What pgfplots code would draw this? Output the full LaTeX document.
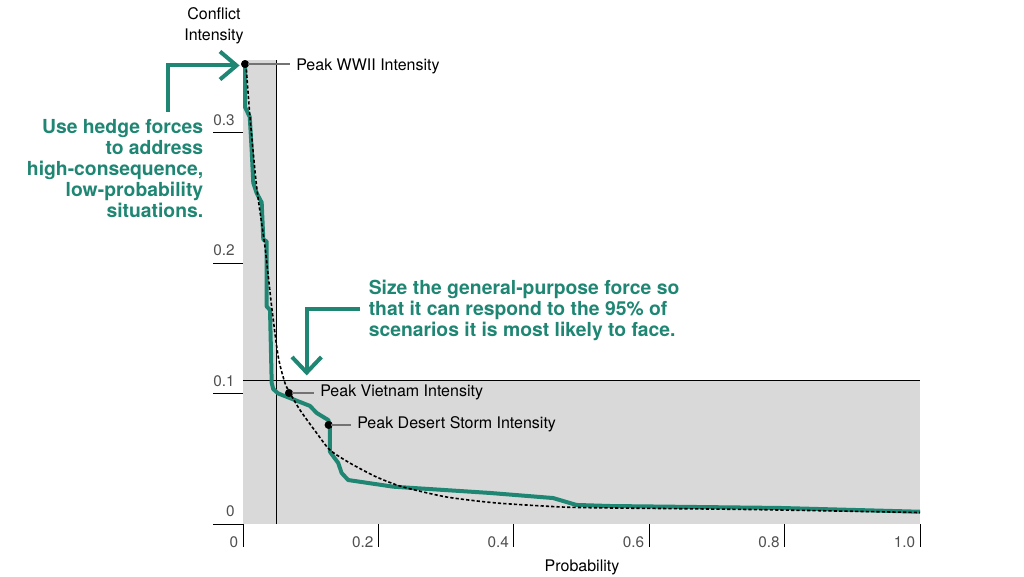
\documentclass[border=0pt]{standalone}
\usepackage{pgfplots}
\pgfplotsset{compat=1.18}
\usepackage{fontspec}
\setmainfont{TeX Gyre Heros}
\definecolor{tealg}{RGB}{31,134,115}
\definecolor{bgray}{RGB}{217,217,217}
\definecolor{tickgray}{RGB}{80,80,80}
\begin{document}
\begin{tikzpicture}
\path[use as bounding box] (0,0) rectangle (768pt,432pt);
\begin{axis}[
  at={(182.25pt,39pt)}, anchor=south west, scale only axis,
  width=507.75pt, height=348pt,
  xmin=0, xmax=1, ymin=0, ymax=0.3556,
  clip=false,
  axis x line*=bottom, axis y line*=left,
  axis line style={draw=none},
  tick align=outside,
  major tick length=22.5pt,
  xtick={0,0.2,0.4,0.6,0.8,1.0},
  xticklabels={0,0.2,0.4,0.6,0.8,1.0},
  ytick={0,0.1,0.2,0.3},
  yticklabels={0,0.1,0.2,0.3},
  xtick style={/pgfplots/major tick length=17pt, black, line width=0.75pt},
  ytick style={black, line width=0.75pt},
  xticklabel style={anchor=north east, inner sep=0pt, xshift=-3.5pt, yshift=13.5pt, text=tickgray, font=\fontsize{11.5pt}{12pt}\selectfont},
  yticklabel style={anchor=south east, inner sep=0pt, xshift=16.5pt, yshift=5pt, text=tickgray, font=\fontsize{11.5pt}{12pt}\selectfont},
]
% shaded regions
\fill[bgray] (axis cs:0,0) rectangle (axis cs:0.05,0.3556);
\fill[bgray] (axis cs:0,0) rectangle (axis cs:1,0.11);
\draw[black, line width=0.75pt] (axis cs:0.05,0) -- (axis cs:0.05,0.3556);
\draw[black, line width=0.75pt] (axis cs:0,0.11) -- (axis cs:1,0.11);

% green empirical curve
\addplot[tealg, line width=3pt, line join=round] coordinates {
(0.003,0.3525)
(0.003,0.3195)
(0.010,0.3119)
(0.0128,0.2866)
(0.0152,0.2613)
(0.0202,0.2536)
(0.0276,0.2464)
(0.0300,0.2180)
(0.0350,0.2165)
(0.0350,0.1667)
(0.0399,0.1640)
(0.0424,0.1080)
(0.0447,0.1034)
(0.0521,0.1000)
(0.0719,0.0960)
(0.0989,0.0905)
(0.1088,0.0851)
(0.1259,0.0797)
(0.1284,0.0759)
(0.1284,0.0554)
(0.1407,0.0467)
(0.1457,0.0391)
(0.1554,0.0337)
(0.2218,0.0286)
(0.3646,0.0238)
(0.4580,0.0199)
(0.4925,0.0146)
(0.5417,0.0138)
(0.7926,0.0123)
(1.0,0.0094)
};

% dashed fitted curve
\addplot[black, line width=1.2pt, dash pattern=on 2.4pt off 1.6pt, smooth, tension=0.4] coordinates {
(0.0044,0.3525)
(0.0103,0.3119)
(0.0202,0.2582)
(0.0325,0.2123)
(0.0424,0.1663)
(0.0521,0.1280)
(0.0620,0.1080)
(0.0694,0.1004)
(0.0841,0.0874)
(0.1088,0.0697)
(0.1284,0.0567)
(0.1579,0.0467)
(0.1973,0.0360)
(0.2362,0.0284)
(0.3007,0.0207)
(0.3745,0.0161)
(0.4723,0.0130)
(0.5417,0.0123)
(0.748,0.0111)
(1.0,0.0088)
};

% peak markers
\addplot[only marks, mark=*, mark size=2.8pt, black] coordinates {
(0.003,0.3525)
(0.068,0.1004)
(0.1265,0.0759)
};
\end{axis}

\begin{scope}[shift={(0pt,432pt)}, x=0.75pt, y=-0.75pt]
  % leader lines and labels
  \draw[black!55, line width=0.8pt] (248,64) -- (290,64);
  \draw[black!55, line width=0.8pt] (292,393) -- (314,393);
  \draw[black!55, line width=0.8pt] (331,425) -- (351,425);
  \node[anchor=west, inner sep=0pt, font=\fontsize{12pt}{14pt}\selectfont] at (296,66.5) {Peak WWII Intensity};
  \node[anchor=west, inner sep=0pt, font=\fontsize{12pt}{14pt}\selectfont] at (320,392.5) {Peak Vietnam Intensity};
  \node[anchor=west, inner sep=0pt, font=\fontsize{12pt}{14pt}\selectfont] at (357,424.5) {Peak Desert Storm Intensity};

  % axis titles
  \node[anchor=north, inner sep=0pt, align=center, font=\fontsize{12pt}{15.75pt}\selectfont] at (214,7) {Conflict\\Intensity};
  \node[anchor=base, inner sep=0pt, font=\fontsize{12pt}{14pt}\selectfont] at (582,571) {Probability};

  % annotation 1
  \draw[tealg, line width=3pt, line join=miter] (168.3,112) -- (168.3,65.5) -- (236,65.5);
  \draw[tealg, line width=3pt, line join=miter, line cap=butt] (220,51.5) -- (236.5,65.5) -- (220,79.5);
  \node[anchor=north east, inner sep=0pt, align=right, text=tealg,
        font=\fontsize{14.5pt}{15.75pt}\selectfont\bfseries] at (203.5,119.5)
        {Use hedge forces\\to address\\high-consequence,\\low-probability\\situations.};

  % annotation 2
  \draw[tealg, line width=3pt, line join=miter] (360,309.3) -- (306.7,309.3) -- (306.7,372);
  \draw[tealg, line width=3pt, line join=miter, line cap=butt] (292,357) -- (306.7,372.5) -- (321.4,357);
  \node[anchor=north west, inner sep=0pt, align=left, text=tealg,
        font=\fontsize{14.5pt}{15.75pt}\selectfont\bfseries] at (368.5,279.5)
        {Size the general-purpose force so\\that it can respond to the 95\% of\\scenarios it is most likely to face.};
\end{scope}
\end{tikzpicture}
\end{document}
